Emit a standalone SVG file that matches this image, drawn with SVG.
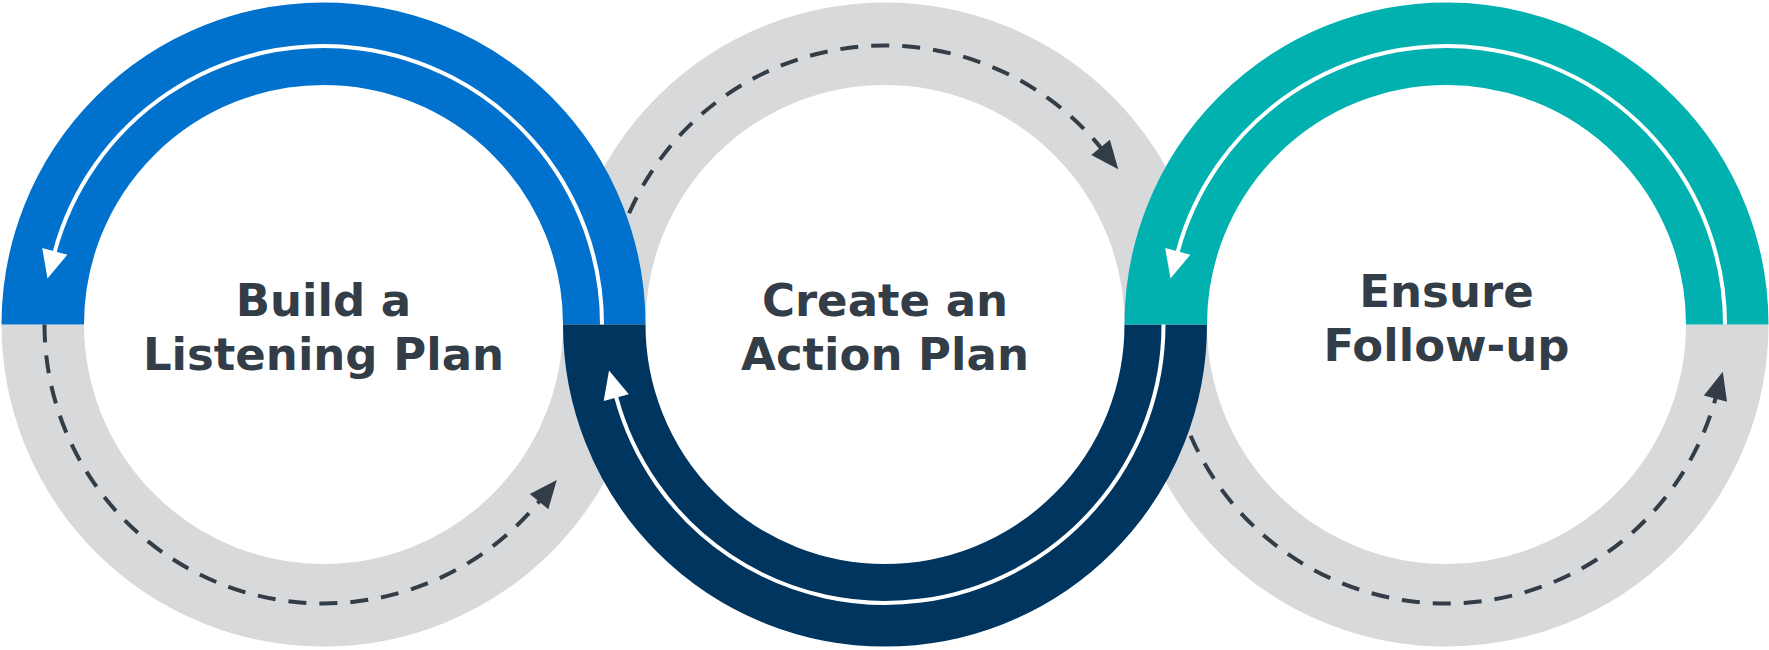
<svg xmlns="http://www.w3.org/2000/svg" width="1769" height="650" viewBox="0 0 1769 650">
  <defs>
    <style>
      .track{fill:none;stroke:#d8d9db;stroke-width:82.5}
      .band{fill:none;stroke-width:82.5}
      .blue{stroke:#0072ce}
      .navy{stroke:#00355f}
      .teal{stroke:#00b1af}
      .label{font-family:"DejaVu Sans","Verdana",sans-serif;font-weight:bold;font-size:45px;fill:#333d47;text-anchor:middle}
      .dash{fill:none;stroke:#333d47;stroke-width:4;stroke-dasharray:18 13;marker-end:url(#ahDark)}
      .wline{fill:none;stroke:#ffffff;stroke-width:4;marker-end:url(#ahWhite)}
    </style>
    <marker id="ahDark" markerUnits="userSpaceOnUse" markerWidth="30" markerHeight="26" refX="1" refY="12" orient="auto" overflow="visible">
      <path d="M0,0 L28,12 L0,24 Z" fill="#333d47"/>
    </marker>
    <marker id="ahWhite" markerUnits="userSpaceOnUse" markerWidth="30" markerHeight="28" refX="1" refY="13" orient="auto" overflow="visible">
      <path d="M0,0 L28,13 L0,26 Z" fill="#ffffff"/>
    </marker>
  </defs>

  <rect x="0" y="0" width="1769" height="650" fill="#ffffff"/>

  <g id="tracks">
    <path class="track" d="M42.75,324.5 A280.75,280.75 0 0 0 604.25,324.5"/>
    <path class="track" d="M604.25,324.5 A280.75,280.75 0 0 1 1165.75,324.5"/>
    <path class="track" d="M1165.75,324.5 A280.75,280.75 0 0 0 1727.25,324.5"/>
  </g>

  <g id="node-build-listening-plan">
    <path class="band blue" d="M42.75,324.5 A280.75,280.75 0 0 1 604.25,324.5"/>
    <text class="label" x="323.5" y="316">Build a</text>
    <text class="label" x="323.5" y="370">Listening Plan</text>
  </g>

  <g id="node-create-action-plan">
    <path class="band navy" d="M604.25,324.5 A280.75,280.75 0 0 0 1165.75,324.5"/>
    <text class="label" x="885" y="316">Create an</text>
    <text class="label" x="885" y="370">Action Plan</text>
  </g>

  <g id="node-ensure-follow-up">
    <path class="band teal" d="M1165.75,324.5 A280.75,280.75 0 0 1 1727.25,324.5"/>
    <text class="label" x="1446.5" y="307">Ensure</text>
    <text class="label" x="1446.5" y="361">Follow-up</text>
  </g>

  <g id="connectors">
    <path class="wline" d="M602,324.5 A278.5,278.5 0 0 0 54.5,252.4"/>
    <path class="dash" d="M44.5,324.5 A279,279 0 0 0 539.7,500.8"/>
    <path class="wline" d="M1163.5,324.5 A278.5,278.5 0 0 1 616,396.6"/>
    <path class="dash" d="M629.1,213.3 A279,279 0 0 1 1101.2,148.2"/>
    <path class="wline" d="M1725,324.5 A278.5,278.5 0 0 0 1177.5,252.4"/>
    <path class="dash" d="M1190.6,435.7 A279,279 0 0 0 1715.7,397.7"/>
  </g>
</svg>
